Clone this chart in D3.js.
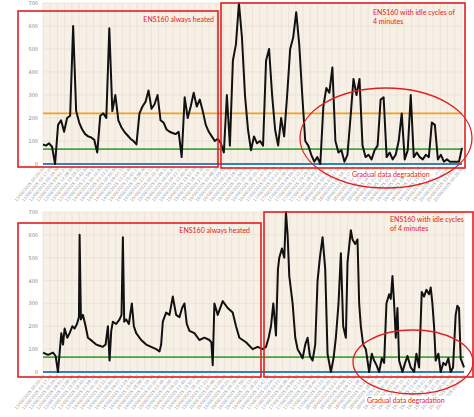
<!DOCTYPE html><html><head><meta charset="utf-8">
<script src="https://cdn.jsdelivr.net/npm/d3@7"></script>
<style>body{margin:0;background:#fff}svg{display:block}</style></head><body>
<svg id="c" width="474" height="417"></svg>
<script>
const yTicks=[0,100,200,300,400,500,600,700];
const topValues=[85,80,90,75,0,170,190,140,200,210,600,230,180,150,130,120,115,105,50,210,220,200,590,230,300,190,160,140,125,110,100,85,220,250,270,320,240,260,300,190,180,150,140,135,130,140,30,290,200,250,310,250,280,230,170,140,120,100,110,90,50,300,80,450,520,700,550,300,150,60,120,90,100,80,450,500,300,150,80,200,120,300,500,550,660,520,300,100,80,40,10,30,0,250,330,310,420,100,50,60,10,40,200,370,300,370,80,30,40,20,60,80,280,290,30,50,20,40,100,220,20,60,300,30,50,30,20,40,30,180,170,20,40,10,20,10,10,10,10,70];
const bottomT=[130,145,160,168,175,185,190,195,203,210,218,225,232,238,240,244,250,258,265,278,290,300,310,318,325,330,335,340,350,360,366,370,374,380,388,397,403,410,425,440,455,470,480,485,490,500,510,520,530,540,548,555,562,570,585,600,615,630,636,640,645,655,670,685,700,710,720,740,760,775,790,800,808,815,822,830,836,840,848,855,860,865,870,880,888,895,903,910,918,925,932,940,948,955,962,970,978,985,995,1003,1010,1018,1025,1032,1040,1045,1050,1055,1060,1068,1075,1080,1085,1092,1100,1110,1118,1125,1132,1140,1148,1155,1162,1170,1175,1180,1185,1190,1195,1200,1210,1218,1225,1235,1245,1252,1260,1268,1275,1282,1290,1295,1300,1305,1310,1318,1325,1333,1340,1348,1355,1362,1370,1375,1380,1385,1390,1395];
const bottomValues=[85,75,85,70,0,170,120,190,150,170,200,190,210,240,600,230,250,200,150,135,120,115,110,120,200,50,180,220,210,230,250,590,220,230,210,300,200,170,140,120,110,100,90,120,220,260,250,330,250,240,280,300,210,180,170,140,150,140,130,30,300,250,310,280,260,200,150,130,100,110,100,110,150,200,300,160,450,500,540,500,700,600,420,300,150,100,80,60,120,150,70,50,120,400,500,590,450,80,0,60,150,300,520,200,150,480,550,620,580,560,580,300,200,120,100,0,80,50,30,0,60,40,300,340,320,420,300,150,280,50,0,40,70,20,0,80,20,350,330,360,340,370,300,200,50,80,0,40,30,60,0,20,250,290,280,60,40,20];
const topRefs=[{v:220,c:"#f0a020"},{v:65,c:"#3aaa3a"},{v:0,c:"#2f7fd0"}];
const bottomRefs=[{v:65,c:"#3aaa3a"},{v:0,c:"#2f7fd0"}];
const svg=d3.select("#c");
const red="#e02020";
function fmt(i){const d=13+Math.floor(i/8);const h=(i*3)%24;return d+"/09/2025 "+String(h).padStart(2,"0")+":"+String((i*17)%60).padStart(2,"0")+":"+String((i*29)%60).padStart(2,"0");}
function panel(o){
 const g=svg.append("g");
 const x=d3.scaleLinear().domain(o.dom).range([o.x0,o.x1]);
 const y=d3.scaleLinear().domain([0,700]).range([o.yb,o.yt]);
 g.append("rect").attr("x",o.x0).attr("y",o.yt).attr("width",o.x1-o.x0).attr("height",o.yb-o.yt).attr("fill","#f7f0e6");
 const nv=o.nTicks;
 for(let i=0;i<=nv;i++){const xx=o.x0+(o.x1-o.x0)*i/nv;
  g.append("line").attr("x1",xx).attr("x2",xx).attr("y1",o.yt).attr("y2",o.yb).attr("stroke","#e6dccd").attr("stroke-width",0.6);
  g.append("text").attr("transform",`translate(${xx+2},${o.yb+4}) rotate(-50)`).attr("text-anchor","end").attr("font-size",4.2).attr("fill","#999").attr("font-family","DejaVu Sans").text(fmt(i+o.off));}
 yTicks.forEach(t=>{g.append("line").attr("x1",o.x0).attr("x2",o.x1).attr("y1",y(t)).attr("y2",y(t)).attr("stroke","#e6dccd").attr("stroke-width",0.6);
  g.append("text").attr("x",o.x0-5).attr("y",y(t)+2).attr("text-anchor","end").attr("font-size",5).attr("fill","#888").attr("font-family","DejaVu Sans").text(t);});
 o.refs.forEach(r=>g.append("line").attr("x1",o.x0).attr("x2",o.x1).attr("y1",y(r.v)).attr("y2",y(r.v)).attr("stroke",r.c).attr("stroke-width",1.8));
 g.append("path").datum(o.data).attr("fill","none").attr("stroke","#111").attr("stroke-width",2).attr("stroke-linejoin","round")
  .attr("d",d3.line().x(d=>x(d[0])).y(d=>y(d[1])));
 o.rects.forEach(r=>g.append("rect").attr("x",r[0]).attr("y",r[1]).attr("width",r[2]-r[0]).attr("height",r[3]-r[1]).attr("fill","none").attr("stroke",red).attr("stroke-width",1.6));
 g.append("ellipse").attr("cx",o.ell[0]).attr("cy",o.ell[1]).attr("rx",o.ell[2]).attr("ry",o.ell[3]).attr("fill","none").attr("stroke",red).attr("stroke-width",1.3);
 o.texts.forEach(t=>{const tx=g.append("text").attr("x",t[0]).attr("y",t[1]).attr("text-anchor",t[3]||"start").attr("font-size",7).attr("fill",red).attr("font-family","Lato, DejaVu Sans").text(t[2]);
  if(t[4]){const b=tx.node().getBBox();g.insert("rect","text:last-child").attr("x",b.x-2).attr("y",b.y).attr("width",b.width+8).attr("height",b.height).attr("fill","#fff");tx.raise();}});
}
panel({dom:[0,139],x0:43,x1:462,yt:3,yb:164,data:topValues.map((v,i)=>[i,v]),refs:topRefs,nTicks:58,off:0,
 rects:[[18,11,218,167],[221,3,465,168]],ell:[386,138,86,50],
 texts:[[214,22,"ENS160 always heated","end"],[373,15,"ENS160 with idle cycles of"],[373,24,"4 minutes"],[352,177,"Gradual data degradation","start",true]]});
panel({dom:[130,1395],x0:43,x1:464,yt:212,yb:372,data:bottomT.map((t,i)=>[t,bottomValues[i]]),refs:bottomRefs,nTicks:58,off:0,
 rects:[[18,223,261,377],[264,212,473,377]],ell:[413,362,60,32],
 texts:[[250,233,"ENS160 always heated","end"],[390,222,"ENS160 with idle cycles"],[390,231,"of 4 minutes"],[367,403,"Gradual data degradation","start",true]]});
</script></body></html>
